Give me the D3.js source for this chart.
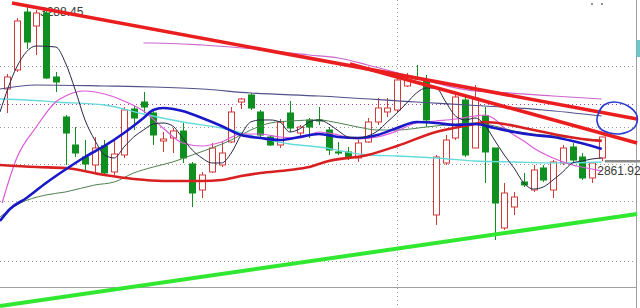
<!DOCTYPE html>
<html><head><meta charset="utf-8">
<script src="https://cdn.jsdelivr.net/npm/d3@7"></script>
<style>html,body{margin:0;padding:0;background:#fff;overflow:hidden}svg{display:block}</style>
</head><body><svg id="c" width="640" height="308"></svg>
<script>
// ---- weekly candles (index 0..61) ----
const open  = [3059.1,3111.0,3269.3,3231.1,3266.6,3091.9,2982.7,2906.2,2873.4,2851.6,2903.5,2832.5,2878.9,3004.5,3023.6,2993.6,2917.1,2925.3,2944.4,2854.3,2783.3,2832.5,2851.6,2914.4,3023.6,3042.7,2996.3,2928.0,2906.2,2993.6,2938.9,2974.5,2974.5,2947.1,2887.1,2887.1,2870.7,2914.4,2969.0,2996.3,3001.8,3067.3,3089.1,3083.7,2715.1,2857.1,2925.3,3029.1,2898.0,2985.4,2898.0,2679.6,2736.9,2805.2,2783.3,2843.4,2783.3,2857.1,2900.7,2873.4,2816.1,2870.7];
const high  = [3100.1,3253.0,3288.45,3274.8,3277.5,3105.5,2988.1,2955.3,2919.8,2928.0,2919.8,2919.8,3009.9,3012.7,3050.9,3001.8,2941.7,2952.6,2966.3,2859.8,2832.5,2911.7,2914.4,3009.9,3034.5,3048.2,3001.8,2933.5,2977.2,3026.3,2960.8,2979.9,3009.9,2955.3,2914.4,2900.7,2919.8,2979.9,3034.5,3034.5,3097.3,3102.8,3124.6,3097.3,2878.9,2933.5,3045.4,3037.3,3070.0,3009.9,2898.0,2802.5,2777.9,2829.8,2851.6,2851.6,2865.2,2906.2,2911.7,2884.3,2859.8,2928.0];
const low   = [2993.6,3105.5,3168.3,3151.9,3086.4,3050.9,2851.6,2873.4,2837.9,2832.5,2824.3,2824.3,2870.7,2947.1,2993.6,2906.2,2887.1,2884.3,2857.1,2736.9,2761.5,2829.8,2846.1,2911.7,3004.5,3001.8,2928.0,2903.5,2898.0,2941.7,2930.8,2925.3,2960.8,2878.9,2878.9,2865.2,2859.8,2911.7,2960.8,2982.7,2996.3,3064.6,3083.7,2955.3,2687.8,2851.6,2919.8,2873.4,2898.0,2802.5,2646.8,2674.1,2715.1,2791.5,2777.9,2805.2,2761.5,2851.6,2859.8,2810.6,2802.5,2861.92];
const close = [3091.9,3244.8,3187.4,3266.6,3089.1,3078.2,2938.9,2884.3,2854.3,2898.0,2829.8,2881.6,3001.8,2979.9,3009.9,2933.5,2922.6,2944.4,2870.7,2775.1,2824.3,2898.0,2884.3,2996.3,3031.8,3007.2,2933.5,2906.2,2969.0,2952.6,2955.3,2955.3,2971.7,2892.5,2884.3,2873.4,2911.7,2969.0,3007.2,3007.2,3083.7,3083.7,3086.4,2974.5,2873.4,2919.8,3037.3,2878.9,3034.5,2887.1,2747.8,2775.1,2764.2,2797.0,2837.9,2810.6,2859.8,2898.0,2865.2,2816.1,2857.1,2928.0];

// ---- moving averages: [index, price] ----
const ma5 = [[-0.72,2996.3],[1,3119.2],[3,3176.5],[5,3173.8],[6,3130.1],[7,3056.4],[8,2974.5],[9,2919.8],[10,2878.9],[11,2870.7],[12,2900.7],[13,2928.0],[14,2947.1],[15,2963.5],[16,2966.3],[17,2958.1],[18,2925.3],[19,2892.5],[20,2870.7],[21,2857.1],[22,2857.1],[23,2884.3],[24,2933.5],[25,2969.0],[26,2974.5],[27,2974.5],[28,2969.0],[29,2941.7],[30,2949.9],[31,2969.0],[32,2974.5],[33,2963.5],[34,2944.4],[35,2928.0],[36,2925.3],[37,2930.8],[38,2944.4],[39,2969.0],[40,2993.6],[41,3020.9],[42,3048.2],[43,3061.8],[44,3061.8],[45,3023.6],[46,2985.4],[47,2974.5],[48,2979.9],[49,2960.8],[50,2919.8],[51,2878.9],[52,2843.4],[53,2802.5],[54,2786.1],[55,2791.5],[56,2810.6],[57,2832.5],[58,2857.1],[59,2862.5],[60,2868.0],[61,2870.7]];
const ma10 = [[-0.72,2698.7],[0.3,2731.4],[2,2761.5],[4,2802.5],[6,2839.3],[8,2873.4],[10,2903.5],[12,2938.9],[14,2979.9],[15,3001.8],[16,3007.2],[18,2999.0],[20,2979.9],[22,2958.1],[24,2933.5],[26,2925.3],[28,2919.8],[30,2928.0],[32,2936.2],[34,2928.0],[36,2925.3],[38,2933.5],[40,2952.6],[42,2969.0],[44,2966.3],[46,2960.8],[48,2963.5],[50,2952.6],[52,2941.7],[54,2933.5],[56,2928.0],[58,2917.1],[60,2903.5],[61,2895.3]];
const ma20 = [[-0.5,2747.8],[1,2870.7],[3,2955.3],[5,3023.6],[6,3040.0],[8,3053.6],[10,3045.4],[12,3026.3],[14,2999.0],[16,2952.6],[18,2911.7],[20,2903.5],[22,2914.4],[24,2936.2],[26,2936.2],[28,2928.0],[30,2925.3],[32,2941.7],[34,2933.5],[36,2922.6],[38,2928.0],[40,2944.4],[42,2966.3],[44,2971.7],[46,2977.2],[48,2985.4],[49,2988.1],[50,2977.2],[51,2952.6],[52,2933.5],[53,2917.1],[54,2898.0],[56,2870.7],[58,2851.6],[60,2840.7],[61,2835.2]];
const ma30 = [[-0.72,2709.6],[1,2742.4],[4,2769.7],[6,2777.9],[9,2797.0],[11,2805.2],[13,2829.8],[15,2846.1],[17,2859.8],[19,2878.9],[21,2898.0],[23,2919.8],[25,2947.1],[27,2966.3],[29,2971.7],[32,2974.5],[34,2966.3],[36,2955.3],[38,2947.1],[40,2947.1],[43,2955.3],[46,2963.5],[48,2966.3],[50,2958.1],[52,2944.4],[54,2936.2],[56,2930.8],[58,2925.3],[61,2919.8]];
const ma60 = [[-0.72,2851.6],[3,2846.1],[6,2843.4],[10,2824.3],[13,2813.4],[16,2807.9],[20,2807.9],[22,2810.6],[24,2821.6],[26,2829.8],[29,2837.9],[31,2846.1],[33,2862.5],[37,2878.9],[40,2903.5],[44,2941.7],[48,2963.5],[49,2969.0],[51,2963.5],[53,2952.6],[56,2936.2],[59,2922.6],[61,2917.1]];
const ma120 = [[-0.72,3031.8],[2,3029.1],[5,3023.6],[10,3015.4],[14,2990.8],[18,2969.0],[22,2952.6],[26,2925.3],[29,2908.9],[32,2900.7],[37,2878.9],[40,2876.2],[44,2870.7],[48,2862.5],[52,2859.8],[56,2857.1],[61,2859.8]];
const ma250 = [[-0.72,3059.1],[3,3070.0],[10,3067.3],[15,3064.6],[20,3059.1],[25,3048.2],[32,3040.0],[42,3023.6],[49,3012.7],[55,3001.8],[61,2985.4]];
const maLong = [[14,3184.7],[15,3184.7],[20,3179.2],[23,3173.8],[31,3151.9],[34,3143.7],[37,3124.6],[42,3089.1],[48,3053.6],[50,3050.9],[56,3040.0],[61,3031.8]];

// ---- hand-drawn trend lines and annotation ----
const trendUpper = [[0.51,3293.9],[64.62,2977.2]];
const trendLower = [[35.18,3127.4],[64.62,2911.7]];
const trendSupport = [[-0.72,2466.6],[64.62,2717.8]];
const circleMark = [[60.72,2996.3],[61.23,3015.4],[62.26,3023.6],[63.69,3012.7],[64.62,2985.4],[64.31,2952.6],[62.77,2936.2],[61.03,2947.1],[60.51,2971.7]];

// ---- grid / labels ----
const gridPrices = [3121.9, 2955.3, 2854.3, 2753.3, 2589.5];
const refPrice = 3018.1;
const basePrice = 2518.5;
const sepIndex = 40;
const edgeIndex = 64.51;
const maxLabel = "3288.45", maxIndex = 2, maxPrice = 3288.45;
const lastLabel = "2861.92", lastPrice = 2861.92;

const svg = d3.select("#c");
const W = 640, H = 308;
const x = d3.scaleLinear().domain([0, 61]).range([7, 601.75]);
const y = d3.scaleLinear().domain([2461.1, 3302.1]).range([308, 0]);

// grid
svg.selectAll(".g").data(gridPrices).enter().append("line")
  .attr("x1", 0).attr("x2", x(edgeIndex)).attr("y1", d => Math.round(y(d)) + 0.5).attr("y2", d => Math.round(y(d)) + 0.5)
  .attr("stroke", "#9a9a9a").attr("stroke-dasharray", "1,3").attr("stroke-width", 1);
svg.append("line").attr("x1", 0).attr("x2", x(edgeIndex)).attr("y1", Math.round(y(refPrice)) + 0.5).attr("y2", Math.round(y(refPrice)) + 0.5)
  .attr("stroke", "#b040b0").attr("stroke-dasharray", "1,3");
svg.append("line").attr("x1", Math.round(x(sepIndex)) + 0.5).attr("x2", Math.round(x(sepIndex)) + 0.5).attr("y1", 0).attr("y2", H)
  .attr("stroke", "#9a9a9a").attr("stroke-dasharray", "1,3");
svg.append("line").attr("x1", 0).attr("x2", x(edgeIndex)).attr("y1", Math.round(y(basePrice)) + 0.5).attr("y2", Math.round(y(basePrice)) + 0.5)
  .attr("stroke", "#a0a0a0").attr("stroke-width", 1);
svg.append("line").attr("x1", Math.round(x(edgeIndex)) + 0.5).attr("x2", Math.round(x(edgeIndex)) + 0.5).attr("y1", 0).attr("y2", H)
  .attr("stroke", "#a0a0a0").attr("stroke-width", 1);
svg.append("rect").attr("x", x(edgeIndex) + 0.5).attr("y", 40).attr("width", 5).attr("height", 17).attr("fill", "#6cc8c8");
svg.selectAll(".dot").data([0, 10]).enter().append("rect")
  .attr("x", d => 591 + d).attr("y", 3).attr("width", 2).attr("height", 2).attr("fill", "#a08a9a");

// max label (drawn under candles)
svg.append("text").attr("x", x(maxIndex) + 13.5).attr("y", y(maxPrice) + 11)
  .attr("font-family", "Liberation Sans, Arial, sans-serif").attr("font-size", 12).attr("fill", "#3a3a3a").text(maxLabel);

// candles
const idx = d3.range(open.length);
const up = i => close[i] >= open[i];
const RED = "#d23a3a", GRN = "#0f8f1f";
const cg = svg.append("g");
cg.selectAll(".wick").data(idx).enter().append("line")
  .attr("x1", i => Math.round(x(i)) + 0.5).attr("x2", i => Math.round(x(i)) + 0.5)
  .attr("y1", i => y(high[i])).attr("y2", i => y(low[i]))
  .attr("stroke", i => up(i) ? RED : GRN).attr("stroke-width", 1);
cg.selectAll(".body").data(idx).enter().append("rect")
  .attr("x", i => Math.round(x(i)) - 3 + 0.5)
  .attr("y", i => y(Math.max(open[i], close[i])))
  .attr("width", 6)
  .attr("height", i => Math.max(1, Math.abs(y(open[i]) - y(close[i]))))
  .attr("fill", i => up(i) ? "#ffffff" : GRN)
  .attr("stroke", i => up(i) ? RED : GRN).attr("stroke-width", 1);

// moving averages
const line = d3.line().x(d => x(d[0])).y(d => y(d[1])).curve(d3.curveMonotoneX);
const lines = [
  [ma250, "#50508a", 1.2],
  [maLong, "#cc66cc", 1.2],
  [ma120, "#66dada", 1.3],
  [ma30, "#4f7f4f", 1],
  [ma20, "#dd5ad8", 1.2],
  [ma60, "#d82020", 2.6],
  [ma10, "#1818c8", 2.6],
  [ma5, "#26264a", 1]
];
lines.forEach(([d, c, w]) => svg.append("path").attr("d", line(d)).attr("fill", "none").attr("stroke", c).attr("stroke-width", w));

// trend lines
const tl = d3.line().x(d => x(d[0])).y(d => y(d[1]));
svg.append("path").attr("d", tl(trendUpper)).attr("stroke", "#ea1e1e").attr("stroke-width", 3.6).attr("fill", "none");
svg.append("path").attr("d", tl(trendLower)).attr("stroke", "#ea1e1e").attr("stroke-width", 3.6).attr("fill", "none");
svg.append("path").attr("d", tl(trendSupport)).attr("stroke", "#30e830").attr("stroke-width", 4).attr("fill", "none");

// hand-drawn circle
svg.append("path").attr("d", d3.line().x(d => x(d[0])).y(d => y(d[1])).curve(d3.curveCardinalClosed)(circleMark))
  .attr("fill", "none").attr("stroke", "#2a3ad0").attr("stroke-width", 1.6);

// last price marker
svg.append("line").attr("x1", x(61) + 3).attr("x2", W).attr("y1", y(lastPrice)).attr("y2", y(lastPrice))
  .attr("stroke", "#8a8a8a").attr("stroke-width", 2.5);
svg.append("text").attr("x", x(61) - 4.5).attr("y", y(lastPrice) + 14)
  .attr("font-family", "Liberation Sans, Arial, sans-serif").attr("font-size", 12).attr("fill", "#3a3a3a").text(lastLabel);
</script></body></html>
